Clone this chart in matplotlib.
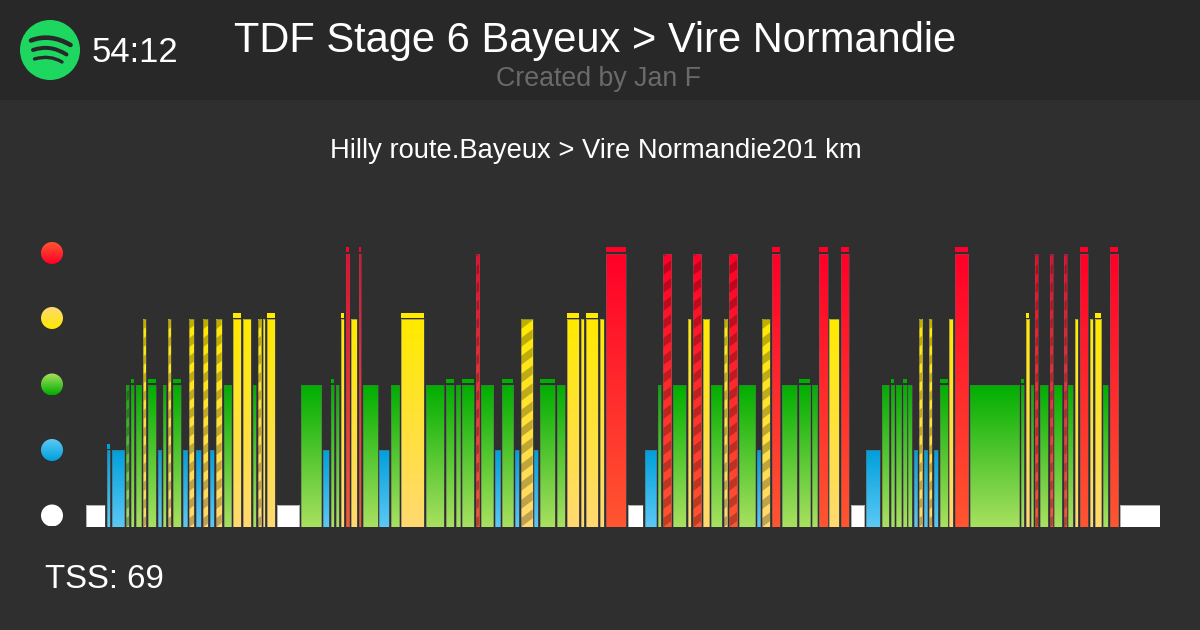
#!/usr/bin/env python3
"""Workout profile card: zone bars over elapsed ride position."""

import matplotlib
matplotlib.use("Agg")
import matplotlib.pyplot as plt
import numpy as np
from matplotlib.colors import LinearSegmentedColormap
from matplotlib.patches import Circle, PathPatch, Polygon, Rectangle
from matplotlib.path import Path

plt.rcParams["font.family"] = ["Liberation Sans", "DejaVu Sans"]

TITLE = "TDF Stage 6 Bayeux > Vire Normandie"
AUTHOR = "Created by Jan F"
DURATION = "54:12"
SUBTITLE = "Hilly route.Bayeux > Vire Normandie201 km"
TSS_LABEL = "TSS: 69"

TIMELINE_LENGTH = 1074
# bar height for zones 0..4 (recovery, endurance, tempo, threshold, VO2)
ZONE_HEIGHT = [22.3, 76.8, 142.3, 208, 273.7]
ZONE_TOP = ["#ffffff", "#00a0dc", "#00ae00", "#ffea00", "#ff0028"]
ZONE_BOTTOM = ["#ffffff", "#5bc8f5", "#a8e060", "#ffd970", "#ff5530"]

SEG_START = [
    0.3, 21, 25.7, 40, 45, 50, 57.3, 62.3, 72, 77.3, 82.3, 87.3, 97, 103, 110, 117, 124, 130,
    137.7, 147.3, 157.3, 167.3, 172, 177, 181, 190.7, 215, 237.3, 245.3, 250.3, 255.3, 260,
    265, 273.3, 277.3, 293.3, 305, 315, 340, 359.7, 369.7, 376, 390, 395, 409, 416, 429.3,
    434.7, 448.3, 454, 471, 481.3, 495.3, 500.3, 514, 520, 541.7, 558.7, 572.3, 577, 587.3,
    602, 607, 617, 625.3, 637.7, 642.7, 653, 671, 676, 686, 696, 713, 726, 733.3, 743.3,
    754.7, 764.7, 780.3, 796, 804.7, 809.7, 817.3, 822.3, 827.7, 832.7, 838, 843.3, 848.3,
    853.7, 863.3, 868.7, 884, 935.3, 940, 945, 949.3, 954, 963.7, 968.3, 977.7, 982.3, 989,
    994, 1004, 1008.7, 1017, 1024, 1034.3,
]
SEG_END = [
    18.7, 24, 38.3, 43, 48, 55.3, 60.3, 70.3, 75.3, 80.3, 85.3, 95.3, 101.3, 108, 115, 122,
    128, 135.7, 145, 155.3, 165.3, 170, 175.3, 179, 188.7, 213, 235.3, 243.3, 248.3, 253.3,
    258, 263.3, 271, 275.3, 291.7, 303.3, 313.3, 338, 357.7, 367.7, 374, 388, 393.3, 407.3,
    414.3, 427.3, 433, 446.7, 452, 469, 479, 493.3, 498.3, 512, 518, 539.7, 556.7, 570.3,
    575, 585.3, 600, 605, 615.3, 623.3, 636, 641, 651.3, 669.3, 674.3, 684, 694, 711, 724.3,
    731.3, 741.7, 752.7, 762.7, 778, 794.3, 802.7, 808, 815.3, 820.7, 826, 831, 836, 841.3,
    846.3, 851.7, 861.7, 866.7, 882, 933.3, 938, 943.3, 947.3, 952.3, 962, 966.7, 976, 980.7,
    987, 992, 1002, 1006.7, 1015, 1022, 1032.3, 1073.7,
]
SEG_ZONE = [
    0, 1, 1, 2, 2, 2, 3, 2, 1, 2, 3, 2, 1, 3, 1, 3, 1, 3, 2, 3, 3, 2, 3, 3, 3, 0, 2, 1, 2, 2,
    3, 4, 3, 4, 2, 1, 2, 3, 2, 2, 2, 2, 4, 2, 1, 2, 1, 3, 1, 2, 2, 3, 3, 3, 3, 4, 0, 1, 2, 4,
    2, 3, 4, 3, 2, 3, 4, 2, 1, 3, 4, 2, 2, 2, 4, 3, 4, 0, 1, 2, 2, 2, 2, 2, 1, 3, 1, 3, 1, 2,
    3, 4, 2, 2, 3, 2, 4, 2, 4, 2, 4, 2, 3, 4, 3, 3, 2, 4, 0,
]
# segments with a small dash floating over the bar
SEG_CAPPED = [1, 4, 7, 11, 19, 24, 28, 30, 31, 33, 37, 39, 41, 45, 49, 51, 53, 55, 70, 72, 74, 76,
              80, 82, 89, 91, 93, 94, 103, 105, 107]
# segments drawn with diagonal stripes
SEG_STRIPED = [3, 6, 10, 13, 15, 17, 22, 42, 47, 59, 62, 65, 66, 69, 85, 87, 96, 98, 100]

BODY_COLOR = "#2f2f2f"
HEADER_COLOR = "#282828"
EDGE_COLOR = "#606060"

CAP_GAP = 1.6
CAP_HEIGHT = 4.6
STRIPE_PERIOD = 18.0
STRIPE_RISE = 9.0


def zone_gradient(index):
    return LinearSegmentedColormap.from_list(
        f"zone{index}", [ZONE_BOTTOM[index], ZONE_TOP[index]])


def draw_stripes(ax, rect, start, end, height):
    for base in np.arange(-STRIPE_PERIOD, height + STRIPE_RISE, STRIPE_PERIOD):
        rise = STRIPE_RISE * (end - start) / 12.0
        stripe = Polygon(
            [(start, base), (end, base + rise),
             (end, base + rise + STRIPE_PERIOD / 2), (start, base + STRIPE_PERIOD / 2)],
            closed=True, facecolor="#000000", alpha=0.25, edgecolor="none", zorder=3)
        ax.add_patch(stripe)
        stripe.set_clip_path(rect)


def draw_segment(ax, start, end, zone, capped, striped):
    height = ZONE_HEIGHT[zone]
    rect = Rectangle((start, 0), end - start, height, facecolor="none",
                     edgecolor=EDGE_COLOR, linewidth=0.7, alpha=0.5, zorder=4)
    ax.add_patch(rect)
    ramp = np.linspace(1, 0, 64).reshape(-1, 1)
    image = ax.imshow(ramp, cmap=zone_gradient(zone), vmin=0, vmax=1, aspect="auto",
                      extent=(start, end, 0, height), interpolation="bilinear", zorder=2)
    image.set_clip_path(rect)
    if striped:
        draw_stripes(ax, rect, start, end, height)
    if capped:
        ax.add_patch(Rectangle((start, height + CAP_GAP), end - start, CAP_HEIGHT,
                               facecolor=ZONE_TOP[zone], edgecolor="none", zorder=2))


def draw_logo(ax):
    ax.add_patch(Circle((50, 50), 30, facecolor="#1ed760", edgecolor="none"))
    arcs = [((31, 40.5), (50, 33), (70.5, 45), 4.6),
            ((33, 50), (50, 44), (66.5, 54.5), 4.0),
            ((34.5, 59), (50, 54.5), (62, 62), 3.4)]
    for begin, ctrl, finish, width in arcs:
        path = Path([begin, ctrl, finish], [Path.MOVETO, Path.CURVE3, Path.CURVE3])
        ax.add_patch(PathPatch(path, facecolor="none", edgecolor=HEADER_COLOR,
                               linewidth=width * 0.72, capstyle="round"))


def draw_zone_dots(ax):
    centers = [515.5, 450, 384.5, 318, 253]
    for zone, cy in enumerate(centers):
        dot = Circle((52, cy), 11, transform=ax.transData, facecolor="none", edgecolor="none")
        ax.add_patch(dot)
        ramp = np.linspace(0, 1, 32).reshape(-1, 1)
        image = ax.imshow(ramp, cmap=zone_gradient(zone), vmin=0, vmax=1, aspect="auto",
                          extent=(41, 63, cy + 11, cy - 11), zorder=2)
        image.set_clip_path(dot)


def main():
    fig = plt.figure(figsize=(12, 6.3), dpi=100, facecolor=BODY_COLOR)

    # page-level layer in pixel coordinates for the header and labels
    page = fig.add_axes([0, 0, 1, 1])
    page.set_xlim(0, 1200)
    page.set_ylim(630, 0)
    page.axis("off")
    page.add_patch(Rectangle((0, 0), 1200, 100, facecolor=HEADER_COLOR, edgecolor="none"))
    draw_logo(page)
    draw_zone_dots(page)
    page.set_xlim(0, 1200)
    page.set_ylim(630, 0)

    page.text(92, 52, DURATION, color="#ffffff", fontsize=24.9, va="center", ha="left")
    page.text(595, 41, TITLE, color="#ffffff", fontsize=30, va="center", ha="center")
    page.text(599, 79, AUTHOR, color="#6a6a6a", fontsize=19.3, va="center", ha="center")
    page.text(595.5, 151, SUBTITLE, color="#ffffff", fontsize=19.7, va="center", ha="center")
    page.text(45, 580, TSS_LABEL, color="#ffffff", fontsize=23.8, va="center", ha="left")

    chart = fig.add_axes([86 / 1200, (630 - 527.3) / 630, TIMELINE_LENGTH / 1200, 285 / 630])
    chart.patch.set_alpha(0)
    for index, (start, end, zone) in enumerate(zip(SEG_START, SEG_END, SEG_ZONE)):
        draw_segment(chart, start, end, zone, index in SEG_CAPPED, index in SEG_STRIPED)
    chart.set_xlim(0, TIMELINE_LENGTH)
    chart.set_ylim(0, 285)
    chart.axis("off")

    fig.savefig("out.png", dpi=100, facecolor=fig.get_facecolor())
    plt.close(fig)


if __name__ == "__main__":
    main()
